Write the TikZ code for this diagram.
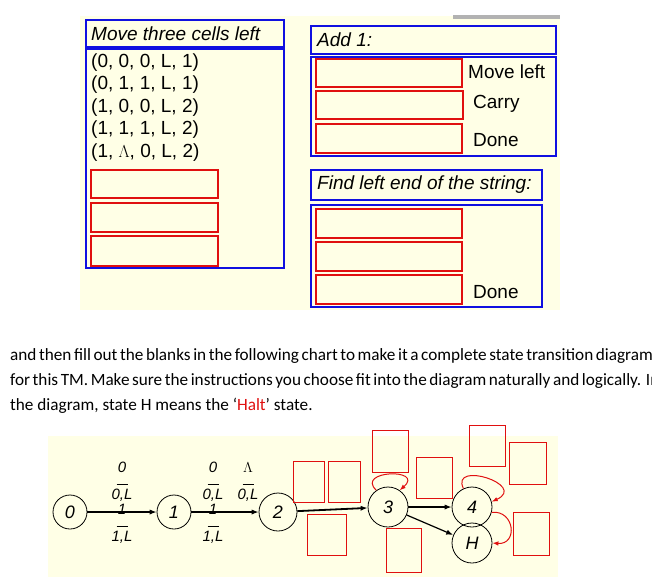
\documentclass[tikz,border=0pt]{standalone}
\usepackage{fontspec}
\setmainfont{Carlito}
\newfontfamily\arialf{Liberation Sans}
\usetikzlibrary{arrows.meta}
\definecolor{bgy}{HTML}{FFFFE6}
\definecolor{bl}{HTML}{1010E0}
\definecolor{rd}{HTML}{E01010}
\newcommand{\ovr}[2]{#1\\[-3pt]\rule{11pt}{0.7pt}\\[0pt]#2}
\begin{document}
\begin{tikzpicture}[x=1pt,y=-1pt,
  bbox/.style={draw=bl,line width=1.6pt},
  rbox/.style={draw=rd,line width=1.6pt},
  sq/.style={draw=rd,line width=1pt},
  lbl/.style={font=\arialf\fontsize{19}{19}\selectfont,anchor=west,inner sep=0},
  ilbl/.style={font=\arialf\itshape\fontsize{19}{19}\selectfont,anchor=west,inner sep=0},
  st/.style={circle,draw,line width=0.8pt,minimum size=40pt,inner sep=0,font=\arialf\itshape\fontsize{18}{18}\selectfont},
  tr/.style={-{Latex[length=7pt]},line width=1.2pt},
  rl/.style={-{Latex[length=6pt]},draw=rd,line width=1pt},
  fr/.style={font=\arialf\itshape\fontsize{15}{15}\selectfont,inner sep=0,align=center},
  para/.style={anchor=base west,inner sep=0,font=\fontsize{17.2}{17.2}\selectfont}]
\useasboundingbox (0,0) rectangle (652,584);
\fill[white] (0,0) rectangle (652,584);
% top panel
\fill[bgy] (80,16) rectangle (560,310);
\fill[gray!60] (453,15) rectangle (560,19);
\draw[bbox] (86,20) rectangle (284,47);
\node[ilbl] (t1) at (91,34) {Move three cells left};
\draw[bbox] (86,49) rectangle (284,268);
\foreach \y/\t [count=\i] in {63/{(0, 0, 0, L, 1)},85/{(0, 1, 1, L, 1)},108/{(1, 0, 0, L, 2)},130/{(1, 1, 1, L, 2)},153/{(1, $\Lambda$, 0, L, 2)}}
  \node[lbl] (r\i) at (91,\y) {\t};
\draw[rbox] (91,170) rectangle (218,198);
\draw[rbox] (91,203) rectangle (218,232);
\draw[rbox] (91,236) rectangle (218,266);
\draw[bbox] (311,26) rectangle (556,54);
\node[ilbl] (t2) at (317,40) {Add 1:};
\draw[bbox] (311,57) rectangle (556,156);
\draw[rbox] (316,59) rectangle (462,87);
\draw[rbox] (316,91) rectangle (463,119);
\draw[rbox] (316,124) rectangle (462,153);
\node[lbl] (a1) at (468,72) {Move left};
\node[lbl] (a2) at (473,104) {Carry};
\node[lbl] (a3) at (473,140) {Done};
\draw[bbox] (311,170) rectangle (542,200);
\node[ilbl] (t3) at (317,185) {Find left end of the string:};
\draw[bbox] (311,205) rectangle (542,307);
\draw[rbox] (316,209) rectangle (462,238);
\draw[rbox] (316,242) rectangle (462,271);
\draw[rbox] (316,275) rectangle (462,304);
\node[lbl] (a4) at (473,292) {Done};
% paragraph
\node[para] (p1) at (10,360) {\makebox[632pt][s]{and then fill out the blanks in the following chart to make it a complete state transition diagram}};
\node[para] (p2) at (10,385) {\makebox[632pt][s]{for this TM. Make sure the instructions you choose fit into the diagram naturally and logically. In}};
\node[para] (p3) at (10,410) {the diagram, state H means the `\textcolor{rd}{Halt}' state.};
% bottom panel
\fill[bgy] (48,436) rectangle (558,577);
\node[st,minimum size=34pt] (s0) at (70,512) {0};
\node[st,minimum size=34pt] (s1) at (174,512) {1};
\node[st,minimum size=38pt] (s2) at (278,512) {2};
\node[st] (s3) at (388,507) {3};
\node[st] (s4) at (472,507) {4};
\node[st] (sH) at (472,543) {H};
\draw[tr] (s0) -- (s1);
\draw[tr] (s1) -- (s2);
\draw[tr,line width=1.8pt] (s2) -- (s3);
\draw[tr] (s3) -- (s4);
\draw[tr] (s3) -- (sH);
\node[fr] (f1) at (122,482) {\ovr{0}{0,L}};
\node[fr] (f2) at (122,524) {\ovr{1}{1,L}};
\node[fr] (f3) at (213,482) {\ovr{0}{0,L}};
\node[fr] (f4) at (248,482) {\ovr{$\Lambda$}{0,L}};
\node[fr] (f5) at (213,524) {\ovr{1}{1,L}};
% red loops
\draw[rl] (s3.125) .. controls (355,470) and (425,468) .. (s3.55);
\draw[rl] (s4.115) .. controls (450,460) and (528,485) .. (s4.15);
\draw[rl] (s4.-15) .. controls (515,510) and (518,545) .. (sH.east);
% blank squares
\foreach \a/\b/\c/\d [count=\i] in {293/461/324/502, 328/461/360/502, 307/514/346/555, 372/430/408/472, 416/457/452/498, 469/425/505/466, 509/442/546/484, 513/512/549/555, 386/528/421/572}
  \draw[sq] (\a,\b) rectangle (\c,\d);
\end{tikzpicture}
\end{document}
